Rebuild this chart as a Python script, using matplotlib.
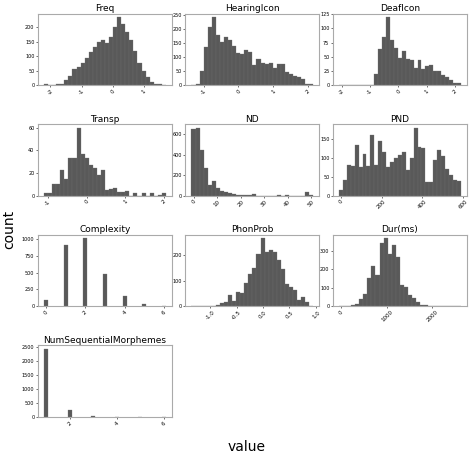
import numpy as np
import matplotlib.pyplot as plt
from matplotlib.ticker import MultipleLocator

# counts per bin
freq = [2, 0, 0, 5, 5, 18, 32, 57, 62, 78, 92, 113, 132, 148, 155, 147, 165, 200, 235, 212,
        185, 155, 117, 78, 50, 28, 12, 5, 2, 0]
hearing = [2, 5, 50, 135, 208, 242, 180, 155, 172, 160, 138, 115, 112, 125, 118, 72, 93, 78,
           75, 80, 62, 76, 75, 45, 38, 32, 28, 20, 5, 5]
deaf = [1, 0, 0, 0, 0, 0, 0, 1, 0, 20, 63, 85, 120, 80, 65, 48, 60, 46, 45, 30, 44, 28, 33,
        35, 25, 24, 18, 14, 9, 4, 3]
transp = [2, 2, 10, 10, 23, 15, 33, 33, 60, 37, 33, 27, 24, 18, 23, 5, 6, 7, 3, 3, 4, 0, 2,
          0, 2, 0, 2, 0, 1, 2]
nd = [650, 665, 450, 270, 105, 140, 70, 45, 35, 30, 15, 10, 8, 8, 10, 12, 0, 0, 0, 0, 0, 2,
      0, 5, 0, 0, 0, 0, 35, 2]
pnd = [15, 42, 80, 78, 135, 75, 110, 78, 160, 80, 145, 115, 75, 88, 100, 108, 115, 68, 100,
       180, 130, 125, 35, 35, 95, 122, 105, 70, 55, 42, 38]
complexity = [95, 910, 1015, 475, 160, 30, 5]
phonprob = [2, 2, 0, 0, 0, 2, 5, 12, 15, 45, 20, 55, 50, 90, 125, 150, 205, 265, 210, 220,
            210, 180, 145, 85, 75, 65, 25, 35, 15, 0]
dur = [1, 2, 3, 5, 12, 40, 65, 155, 220, 170, 345, 370, 285, 335, 270, 115, 105, 60, 45, 25,
       5, 5, 2, 2, 1, 1, 1, 1, 1, 1]
nsm = [2450, 230, 30, 8, 2, 2]

# (title, left edge, right edge, counts, xticks, y tick step, bar width for integer data)
panels = [
    ("Freq", -2.2, 1.7, freq, [-2, -1, 0, 1], 50, None),
    ("HearingIcon", -1.35, 2.15, hearing, [-1, 0, 1, 2], 50, None),
    ("DeafIcon", -2.1, 2.2, deaf, [-2, -1, 0, 1, 2], 25, None),
    ("Transp", -1.1, 2.05, transp, [-1, 0, 1, 2], 20, None),
    ("ND", -1, 51, nd, [0, 10, 20, 30, 40, 50], 200, None),
    ("PND", -10, 590, pnd, [0, 200, 400, 600], 50, None),
    ("Complexity", 0, 6, complexity, [0, 2, 4, 6], 250, 0.2),
    ("PhonProb", -1.35, 0.95, phonprob, [-1.0, -0.5, 0.0, 0.5, 1.0], 100, None),
    ("Dur(ms)", -50, 2620, dur, [0, 1000, 2000], 100, None),
    ("NumSequentialMorphemes", 1, 6, nsm, [2, 4, 6], 500, 0.17),
]

fig, axes = plt.subplots(4, 3, figsize=(4.74, 4.58), dpi=100)
for ax in axes.flat:
    ax.set_visible(False)

for ax, (name, lo, hi, counts, ticks, ystep, w) in zip(axes.flat, panels):
    ax.set_visible(True)
    if w is None:
        edges = np.linspace(lo, hi, len(counts) + 1)
        ax.bar(edges[:-1], counts, width=np.diff(edges), align='edge',
               color='#595959', edgecolor='#707070', linewidth=0.2)
    else:
        xs = np.arange(lo, lo + len(counts))
        ax.bar(xs, counts, width=w, color='#595959', edgecolor='#707070', linewidth=0.2)
    ax.set_title(name, fontsize=6.5, pad=2)
    ax.set_xticks(ticks)
    ax.set_xticklabels([str(t) for t in ticks], rotation=45, fontsize=4)
    ax.yaxis.set_major_locator(MultipleLocator(ystep))
    ax.tick_params(axis='y', labelsize=3.5, length=1.5, pad=1, width=0.4)
    ax.tick_params(axis='x', length=1.5, pad=1, width=0.4)
    for s in ax.spines.values():
        s.set_color('#aaaaaa')
        s.set_linewidth(0.8)
    ax.margins(x=0.05, y=0.05)

fig.text(0.005, 0.5, "count", rotation=90, fontsize=10, va='center')
fig.text(0.52, 0.015, "value", fontsize=10, ha='center')
fig.subplots_adjust(left=0.08, right=0.985, top=0.97, bottom=0.09, wspace=0.1, hspace=0.55)
plt.savefig("out.png")
